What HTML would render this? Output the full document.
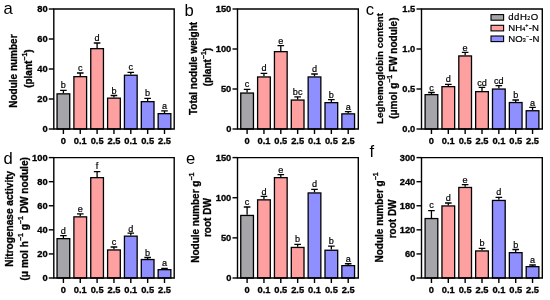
<!DOCTYPE html>
<html><head><meta charset="utf-8"><style>
html,body{margin:0;padding:0;background:#fff;width:550px;height:300px;overflow:hidden}
svg{display:block;will-change:transform}
text{font-family:"Liberation Sans",sans-serif;fill:#000}
.tk{font-size:9.3px;font-weight:bold;stroke:#000;stroke-width:0.3px}
.let{font-size:9.1px;stroke:#000;stroke-width:0.2px}
.pl{font-size:16.6px}
.tt{font-size:10px;font-weight:bold;stroke:#000;stroke-width:0.3px}
.lg{font-size:9.6px;stroke:#000;stroke-width:0.2px}
</style></head><body>
<svg width="550" height="300" viewBox="0 0 550 300">
<rect width="550" height="300" fill="#fff"/>
<rect x="57.05" y="93.85" width="12.7" height="35.15" fill="#a6a6aa" stroke="#000" stroke-width="1.3"/>
<path d="M63.4 93.2V90.3M60.1 90.3H66.7" stroke="#000" stroke-width="1.3" fill="none"/>
<text x="63.4" y="87.5" class="let" text-anchor="middle">b</text>
<path d="M63.4 129V134" stroke="#000" stroke-width="1.4"/>
<text x="63.4" y="144.4" class="tk" text-anchor="middle">0</text>
<rect x="73.9" y="76.65" width="12.7" height="52.35" fill="#ffa0a0" stroke="#000" stroke-width="1.3"/>
<path d="M80.25 76V73M76.95 73H83.55" stroke="#000" stroke-width="1.3" fill="none"/>
<text x="80.25" y="70.7" class="let" text-anchor="middle">c</text>
<path d="M80.25 129V134" stroke="#000" stroke-width="1.4"/>
<text x="80.25" y="144.4" class="tk" text-anchor="middle">0.1</text>
<rect x="90.75" y="48.65" width="12.7" height="80.35" fill="#ffa0a0" stroke="#000" stroke-width="1.3"/>
<path d="M97.1 48V43M93.8 43H100.4" stroke="#000" stroke-width="1.3" fill="none"/>
<text x="97.1" y="41" class="let" text-anchor="middle">d</text>
<path d="M97.1 129V134" stroke="#000" stroke-width="1.4"/>
<text x="97.1" y="144.4" class="tk" text-anchor="middle">0.5</text>
<rect x="107.6" y="98.15" width="12.7" height="30.85" fill="#ffa0a0" stroke="#000" stroke-width="1.3"/>
<path d="M113.95 97.5V95.5M110.65 95.5H117.25" stroke="#000" stroke-width="1.3" fill="none"/>
<text x="113.95" y="93.8" class="let" text-anchor="middle">b</text>
<path d="M113.95 129V134" stroke="#000" stroke-width="1.4"/>
<text x="113.95" y="144.4" class="tk" text-anchor="middle">2.5</text>
<rect x="124.45" y="75.25" width="12.7" height="53.75" fill="#8f8fff" stroke="#000" stroke-width="1.3"/>
<path d="M130.8 74.6V72.4M127.5 72.4H134.1" stroke="#000" stroke-width="1.3" fill="none"/>
<text x="130.8" y="70.3" class="let" text-anchor="middle">c</text>
<path d="M130.8 129V134" stroke="#000" stroke-width="1.4"/>
<text x="130.8" y="144.4" class="tk" text-anchor="middle">0.1</text>
<rect x="141.3" y="101.65" width="12.7" height="27.35" fill="#8f8fff" stroke="#000" stroke-width="1.3"/>
<path d="M147.65 101V98.4M144.35 98.4H150.95" stroke="#000" stroke-width="1.3" fill="none"/>
<text x="147.65" y="96.2" class="let" text-anchor="middle">b</text>
<path d="M147.65 129V134" stroke="#000" stroke-width="1.4"/>
<text x="147.65" y="144.4" class="tk" text-anchor="middle">0.5</text>
<rect x="158.15" y="113.65" width="12.7" height="15.35" fill="#8f8fff" stroke="#000" stroke-width="1.3"/>
<path d="M164.5 113V110.8M161.2 110.8H167.8" stroke="#000" stroke-width="1.3" fill="none"/>
<text x="164.5" y="108.9" class="let" text-anchor="middle">a</text>
<path d="M164.5 129V134" stroke="#000" stroke-width="1.4"/>
<text x="164.5" y="144.4" class="tk" text-anchor="middle">2.5</text>
<path d="M53.8 9V129H174.2V9Z" stroke="#000" stroke-width="1.4" fill="none"/>
<path d="M48.8 129H53.8" stroke="#000" stroke-width="1.4"/>
<text x="47.6" y="132.3" class="tk" text-anchor="end">0</text>
<path d="M48.8 99H53.8" stroke="#000" stroke-width="1.4"/>
<text x="47.6" y="102.3" class="tk" text-anchor="end">20</text>
<path d="M48.8 69H53.8" stroke="#000" stroke-width="1.4"/>
<text x="47.6" y="72.3" class="tk" text-anchor="end">40</text>
<path d="M48.8 39H53.8" stroke="#000" stroke-width="1.4"/>
<text x="47.6" y="42.3" class="tk" text-anchor="end">60</text>
<path d="M48.8 9H53.8" stroke="#000" stroke-width="1.4"/>
<text x="47.6" y="12.3" class="tk" text-anchor="end">80</text>
<rect x="240.75" y="93.05" width="12.7" height="35.95" fill="#a6a6aa" stroke="#000" stroke-width="1.3"/>
<path d="M247.1 92.4V89.4M243.8 89.4H250.4" stroke="#000" stroke-width="1.3" fill="none"/>
<text x="247.1" y="87.3" class="let" text-anchor="middle">c</text>
<path d="M247.1 129V134" stroke="#000" stroke-width="1.4"/>
<text x="247.1" y="144.4" class="tk" text-anchor="middle">0</text>
<rect x="257.6" y="76.95" width="12.7" height="52.05" fill="#ffa0a0" stroke="#000" stroke-width="1.3"/>
<path d="M263.95 76.3V73.3M260.65 73.3H267.25" stroke="#000" stroke-width="1.3" fill="none"/>
<text x="263.95" y="71.2" class="let" text-anchor="middle">d</text>
<path d="M263.95 129V134" stroke="#000" stroke-width="1.4"/>
<text x="263.95" y="144.4" class="tk" text-anchor="middle">0.1</text>
<rect x="274.45" y="51.65" width="12.7" height="77.35" fill="#ffa0a0" stroke="#000" stroke-width="1.3"/>
<path d="M280.8 51V45.6M277.5 45.6H284.1" stroke="#000" stroke-width="1.3" fill="none"/>
<text x="280.8" y="44" class="let" text-anchor="middle">e</text>
<path d="M280.8 129V134" stroke="#000" stroke-width="1.4"/>
<text x="280.8" y="144.4" class="tk" text-anchor="middle">0.5</text>
<rect x="291.3" y="100.05" width="12.7" height="28.95" fill="#ffa0a0" stroke="#000" stroke-width="1.3"/>
<path d="M297.65 99.4V96.9M294.35 96.9H300.95" stroke="#000" stroke-width="1.3" fill="none"/>
<text x="297.65" y="95" class="let" text-anchor="middle">bc</text>
<path d="M297.65 129V134" stroke="#000" stroke-width="1.4"/>
<text x="297.65" y="144.4" class="tk" text-anchor="middle">2.5</text>
<rect x="308.15" y="76.95" width="12.7" height="52.05" fill="#8f8fff" stroke="#000" stroke-width="1.3"/>
<path d="M314.5 76.3V74M311.2 74H317.8" stroke="#000" stroke-width="1.3" fill="none"/>
<text x="314.5" y="72.1" class="let" text-anchor="middle">d</text>
<path d="M314.5 129V134" stroke="#000" stroke-width="1.4"/>
<text x="314.5" y="144.4" class="tk" text-anchor="middle">0.1</text>
<rect x="325" y="102.65" width="12.7" height="26.35" fill="#8f8fff" stroke="#000" stroke-width="1.3"/>
<path d="M331.35 102V99.7M328.05 99.7H334.65" stroke="#000" stroke-width="1.3" fill="none"/>
<text x="331.35" y="98" class="let" text-anchor="middle">b</text>
<path d="M331.35 129V134" stroke="#000" stroke-width="1.4"/>
<text x="331.35" y="144.4" class="tk" text-anchor="middle">0.5</text>
<rect x="341.85" y="113.85" width="12.7" height="15.15" fill="#8f8fff" stroke="#000" stroke-width="1.3"/>
<path d="M348.2 113.2V111.6M344.9 111.6H351.5" stroke="#000" stroke-width="1.3" fill="none"/>
<text x="348.2" y="110.1" class="let" text-anchor="middle">a</text>
<path d="M348.2 129V134" stroke="#000" stroke-width="1.4"/>
<text x="348.2" y="144.4" class="tk" text-anchor="middle">2.5</text>
<path d="M237.5 9V129H358.3V9Z" stroke="#000" stroke-width="1.4" fill="none"/>
<path d="M232.5 129H237.5" stroke="#000" stroke-width="1.4"/>
<text x="231.3" y="132.3" class="tk" text-anchor="end">0</text>
<path d="M232.5 89H237.5" stroke="#000" stroke-width="1.4"/>
<text x="231.3" y="92.3" class="tk" text-anchor="end">50</text>
<path d="M232.5 49H237.5" stroke="#000" stroke-width="1.4"/>
<text x="231.3" y="52.3" class="tk" text-anchor="end">100</text>
<path d="M232.5 9H237.5" stroke="#000" stroke-width="1.4"/>
<text x="231.3" y="12.3" class="tk" text-anchor="end">150</text>
<rect x="425.1" y="94.65" width="12.7" height="34.35" fill="#a6a6aa" stroke="#000" stroke-width="1.3"/>
<path d="M431.45 94V92.5M428.15 92.5H434.75" stroke="#000" stroke-width="1.3" fill="none"/>
<text x="431.45" y="90.5" class="let" text-anchor="middle">c</text>
<path d="M431.45 129V134" stroke="#000" stroke-width="1.4"/>
<text x="431.45" y="144.4" class="tk" text-anchor="middle">0</text>
<rect x="441.95" y="86.65" width="12.7" height="42.35" fill="#ffa0a0" stroke="#000" stroke-width="1.3"/>
<path d="M448.3 86V84.3M445 84.3H451.6" stroke="#000" stroke-width="1.3" fill="none"/>
<text x="448.3" y="82.4" class="let" text-anchor="middle">d</text>
<path d="M448.3 129V134" stroke="#000" stroke-width="1.4"/>
<text x="448.3" y="144.4" class="tk" text-anchor="middle">0.1</text>
<rect x="458.8" y="55.95" width="12.7" height="73.05" fill="#ffa0a0" stroke="#000" stroke-width="1.3"/>
<path d="M465.15 55.3V52.3M461.85 52.3H468.45" stroke="#000" stroke-width="1.3" fill="none"/>
<text x="465.15" y="50.8" class="let" text-anchor="middle">e</text>
<path d="M465.15 129V134" stroke="#000" stroke-width="1.4"/>
<text x="465.15" y="144.4" class="tk" text-anchor="middle">0.5</text>
<rect x="475.65" y="91.65" width="12.7" height="37.35" fill="#ffa0a0" stroke="#000" stroke-width="1.3"/>
<path d="M482 91V87.4M478.7 87.4H485.3" stroke="#000" stroke-width="1.3" fill="none"/>
<text x="482" y="86" class="let" text-anchor="middle">cd</text>
<path d="M482 129V134" stroke="#000" stroke-width="1.4"/>
<text x="482" y="144.4" class="tk" text-anchor="middle">2.5</text>
<rect x="492.5" y="89.05" width="12.7" height="39.95" fill="#8f8fff" stroke="#000" stroke-width="1.3"/>
<path d="M498.85 88.4V85.6M495.55 85.6H502.15" stroke="#000" stroke-width="1.3" fill="none"/>
<text x="498.85" y="83.6" class="let" text-anchor="middle">cd</text>
<path d="M498.85 129V134" stroke="#000" stroke-width="1.4"/>
<text x="498.85" y="144.4" class="tk" text-anchor="middle">0.1</text>
<rect x="509.35" y="102.55" width="12.7" height="26.45" fill="#8f8fff" stroke="#000" stroke-width="1.3"/>
<path d="M515.7 101.9V100M512.4 100H519" stroke="#000" stroke-width="1.3" fill="none"/>
<text x="515.7" y="98.1" class="let" text-anchor="middle">b</text>
<path d="M515.7 129V134" stroke="#000" stroke-width="1.4"/>
<text x="515.7" y="144.4" class="tk" text-anchor="middle">0.5</text>
<rect x="526.2" y="110.75" width="12.7" height="18.25" fill="#8f8fff" stroke="#000" stroke-width="1.3"/>
<path d="M532.55 110.1V107.4M529.25 107.4H535.85" stroke="#000" stroke-width="1.3" fill="none"/>
<text x="532.55" y="105.7" class="let" text-anchor="middle">a</text>
<path d="M532.55 129V134" stroke="#000" stroke-width="1.4"/>
<text x="532.55" y="144.4" class="tk" text-anchor="middle">2.5</text>
<path d="M421.5 9V129H542.3V9Z" stroke="#000" stroke-width="1.4" fill="none"/>
<path d="M416.5 129H421.5" stroke="#000" stroke-width="1.4"/>
<text x="415.3" y="132.3" class="tk" text-anchor="end">0.0</text>
<path d="M416.5 89H421.5" stroke="#000" stroke-width="1.4"/>
<text x="415.3" y="92.3" class="tk" text-anchor="end">0.5</text>
<path d="M416.5 49H421.5" stroke="#000" stroke-width="1.4"/>
<text x="415.3" y="52.3" class="tk" text-anchor="end">1.0</text>
<path d="M416.5 9H421.5" stroke="#000" stroke-width="1.4"/>
<text x="415.3" y="12.3" class="tk" text-anchor="end">1.5</text>
<rect x="57.05" y="238.65" width="12.7" height="39.35" fill="#a6a6aa" stroke="#000" stroke-width="1.3"/>
<path d="M63.4 238V235.7M60.1 235.7H66.7" stroke="#000" stroke-width="1.3" fill="none"/>
<text x="63.4" y="233.5" class="let" text-anchor="middle">d</text>
<path d="M63.4 278V283" stroke="#000" stroke-width="1.4"/>
<text x="63.4" y="293.4" class="tk" text-anchor="middle">0</text>
<rect x="73.9" y="216.85" width="12.7" height="61.15" fill="#ffa0a0" stroke="#000" stroke-width="1.3"/>
<path d="M80.25 216.2V213.8M76.95 213.8H83.55" stroke="#000" stroke-width="1.3" fill="none"/>
<text x="80.25" y="212.4" class="let" text-anchor="middle">e</text>
<path d="M80.25 278V283" stroke="#000" stroke-width="1.4"/>
<text x="80.25" y="293.4" class="tk" text-anchor="middle">0.1</text>
<rect x="90.75" y="177.65" width="12.7" height="100.35" fill="#ffa0a0" stroke="#000" stroke-width="1.3"/>
<path d="M97.1 177V171.6M93.8 171.6H100.4" stroke="#000" stroke-width="1.3" fill="none"/>
<text x="97.1" y="169.2" class="let" text-anchor="middle">f</text>
<path d="M97.1 278V283" stroke="#000" stroke-width="1.4"/>
<text x="97.1" y="293.4" class="tk" text-anchor="middle">0.5</text>
<rect x="107.6" y="249.95" width="12.7" height="28.05" fill="#ffa0a0" stroke="#000" stroke-width="1.3"/>
<path d="M113.95 249.3V247M110.65 247H117.25" stroke="#000" stroke-width="1.3" fill="none"/>
<text x="113.95" y="245.3" class="let" text-anchor="middle">c</text>
<path d="M113.95 278V283" stroke="#000" stroke-width="1.4"/>
<text x="113.95" y="293.4" class="tk" text-anchor="middle">2.5</text>
<rect x="124.45" y="236.15" width="12.7" height="41.85" fill="#8f8fff" stroke="#000" stroke-width="1.3"/>
<path d="M130.8 235.5V233.2M127.5 233.2H134.1" stroke="#000" stroke-width="1.3" fill="none"/>
<text x="130.8" y="232" class="let" text-anchor="middle">d</text>
<path d="M130.8 278V283" stroke="#000" stroke-width="1.4"/>
<text x="130.8" y="293.4" class="tk" text-anchor="middle">0.1</text>
<rect x="141.3" y="259.55" width="12.7" height="18.45" fill="#8f8fff" stroke="#000" stroke-width="1.3"/>
<path d="M147.65 258.9V257.5M144.35 257.5H150.95" stroke="#000" stroke-width="1.3" fill="none"/>
<text x="147.65" y="255.8" class="let" text-anchor="middle">b</text>
<path d="M147.65 278V283" stroke="#000" stroke-width="1.4"/>
<text x="147.65" y="293.4" class="tk" text-anchor="middle">0.5</text>
<rect x="158.15" y="269.65" width="12.7" height="8.35" fill="#8f8fff" stroke="#000" stroke-width="1.3"/>
<path d="M164.5 269V268.3M161.2 268.3H167.8" stroke="#000" stroke-width="1.3" fill="none"/>
<text x="164.5" y="266.3" class="let" text-anchor="middle">a</text>
<path d="M164.5 278V283" stroke="#000" stroke-width="1.4"/>
<text x="164.5" y="293.4" class="tk" text-anchor="middle">2.5</text>
<path d="M53.8 157.6V278H174.2V157.6Z" stroke="#000" stroke-width="1.4" fill="none"/>
<path d="M48.8 278H53.8" stroke="#000" stroke-width="1.4"/>
<text x="47.6" y="281.3" class="tk" text-anchor="end">0</text>
<path d="M48.8 253.92H53.8" stroke="#000" stroke-width="1.4"/>
<text x="47.6" y="257.22" class="tk" text-anchor="end">20</text>
<path d="M48.8 229.84H53.8" stroke="#000" stroke-width="1.4"/>
<text x="47.6" y="233.14" class="tk" text-anchor="end">40</text>
<path d="M48.8 205.76H53.8" stroke="#000" stroke-width="1.4"/>
<text x="47.6" y="209.06" class="tk" text-anchor="end">60</text>
<path d="M48.8 181.68H53.8" stroke="#000" stroke-width="1.4"/>
<text x="47.6" y="184.98" class="tk" text-anchor="end">80</text>
<path d="M48.8 157.6H53.8" stroke="#000" stroke-width="1.4"/>
<text x="47.6" y="160.9" class="tk" text-anchor="end">100</text>
<rect x="240.75" y="215.45" width="12.7" height="62.55" fill="#a6a6aa" stroke="#000" stroke-width="1.3"/>
<path d="M247.1 214.8V207M243.8 207H250.4" stroke="#000" stroke-width="1.3" fill="none"/>
<text x="247.1" y="205.2" class="let" text-anchor="middle">c</text>
<path d="M247.1 278V283" stroke="#000" stroke-width="1.4"/>
<text x="247.1" y="293.4" class="tk" text-anchor="middle">0</text>
<rect x="257.6" y="199.85" width="12.7" height="78.15" fill="#ffa0a0" stroke="#000" stroke-width="1.3"/>
<path d="M263.95 199.2V196.4M260.65 196.4H267.25" stroke="#000" stroke-width="1.3" fill="none"/>
<text x="263.95" y="194.7" class="let" text-anchor="middle">d</text>
<path d="M263.95 278V283" stroke="#000" stroke-width="1.4"/>
<text x="263.95" y="293.4" class="tk" text-anchor="middle">0.1</text>
<rect x="274.45" y="177.65" width="12.7" height="100.35" fill="#ffa0a0" stroke="#000" stroke-width="1.3"/>
<path d="M280.8 177V174.6M277.5 174.6H284.1" stroke="#000" stroke-width="1.3" fill="none"/>
<text x="280.8" y="173" class="let" text-anchor="middle">e</text>
<path d="M280.8 278V283" stroke="#000" stroke-width="1.4"/>
<text x="280.8" y="293.4" class="tk" text-anchor="middle">0.5</text>
<rect x="291.3" y="247.45" width="12.7" height="30.55" fill="#ffa0a0" stroke="#000" stroke-width="1.3"/>
<path d="M297.65 246.8V244.4M294.35 244.4H300.95" stroke="#000" stroke-width="1.3" fill="none"/>
<text x="297.65" y="242.4" class="let" text-anchor="middle">b</text>
<path d="M297.65 278V283" stroke="#000" stroke-width="1.4"/>
<text x="297.65" y="293.4" class="tk" text-anchor="middle">2.5</text>
<rect x="308.15" y="192.95" width="12.7" height="85.05" fill="#8f8fff" stroke="#000" stroke-width="1.3"/>
<path d="M314.5 192.3V189.3M311.2 189.3H317.8" stroke="#000" stroke-width="1.3" fill="none"/>
<text x="314.5" y="187" class="let" text-anchor="middle">d</text>
<path d="M314.5 278V283" stroke="#000" stroke-width="1.4"/>
<text x="314.5" y="293.4" class="tk" text-anchor="middle">0.1</text>
<rect x="325" y="250.25" width="12.7" height="27.75" fill="#8f8fff" stroke="#000" stroke-width="1.3"/>
<path d="M331.35 249.6V246.2M328.05 246.2H334.65" stroke="#000" stroke-width="1.3" fill="none"/>
<text x="331.35" y="244.4" class="let" text-anchor="middle">b</text>
<path d="M331.35 278V283" stroke="#000" stroke-width="1.4"/>
<text x="331.35" y="293.4" class="tk" text-anchor="middle">0.5</text>
<rect x="341.85" y="265.65" width="12.7" height="12.35" fill="#8f8fff" stroke="#000" stroke-width="1.3"/>
<path d="M348.2 265V263.75M344.9 263.75H351.5" stroke="#000" stroke-width="1.3" fill="none"/>
<text x="348.2" y="262" class="let" text-anchor="middle">a</text>
<path d="M348.2 278V283" stroke="#000" stroke-width="1.4"/>
<text x="348.2" y="293.4" class="tk" text-anchor="middle">2.5</text>
<path d="M237.5 157.6V278H358.3V157.6Z" stroke="#000" stroke-width="1.4" fill="none"/>
<path d="M232.5 278H237.5" stroke="#000" stroke-width="1.4"/>
<text x="231.3" y="281.3" class="tk" text-anchor="end">0</text>
<path d="M232.5 237.87H237.5" stroke="#000" stroke-width="1.4"/>
<text x="231.3" y="241.17" class="tk" text-anchor="end">50</text>
<path d="M232.5 197.73H237.5" stroke="#000" stroke-width="1.4"/>
<text x="231.3" y="201.03" class="tk" text-anchor="end">100</text>
<path d="M232.5 157.6H237.5" stroke="#000" stroke-width="1.4"/>
<text x="231.3" y="160.9" class="tk" text-anchor="end">150</text>
<rect x="425.1" y="218.55" width="12.7" height="59.45" fill="#a6a6aa" stroke="#000" stroke-width="1.3"/>
<path d="M431.45 217.9V210.7M428.15 210.7H434.75" stroke="#000" stroke-width="1.3" fill="none"/>
<text x="431.45" y="208.4" class="let" text-anchor="middle">c</text>
<path d="M431.45 278V283" stroke="#000" stroke-width="1.4"/>
<text x="431.45" y="293.4" class="tk" text-anchor="middle">0</text>
<rect x="441.95" y="205.95" width="12.7" height="72.05" fill="#ffa0a0" stroke="#000" stroke-width="1.3"/>
<path d="M448.3 205.3V203M445 203H451.6" stroke="#000" stroke-width="1.3" fill="none"/>
<text x="448.3" y="200.8" class="let" text-anchor="middle">d</text>
<path d="M448.3 278V283" stroke="#000" stroke-width="1.4"/>
<text x="448.3" y="293.4" class="tk" text-anchor="middle">0.1</text>
<rect x="458.8" y="187.45" width="12.7" height="90.55" fill="#ffa0a0" stroke="#000" stroke-width="1.3"/>
<path d="M465.15 186.8V184.6M461.85 184.6H468.45" stroke="#000" stroke-width="1.3" fill="none"/>
<text x="465.15" y="182.6" class="let" text-anchor="middle">e</text>
<path d="M465.15 278V283" stroke="#000" stroke-width="1.4"/>
<text x="465.15" y="293.4" class="tk" text-anchor="middle">0.5</text>
<rect x="475.65" y="250.95" width="12.7" height="27.05" fill="#ffa0a0" stroke="#000" stroke-width="1.3"/>
<path d="M482 250.3V248.4M478.7 248.4H485.3" stroke="#000" stroke-width="1.3" fill="none"/>
<text x="482" y="246.1" class="let" text-anchor="middle">b</text>
<path d="M482 278V283" stroke="#000" stroke-width="1.4"/>
<text x="482" y="293.4" class="tk" text-anchor="middle">2.5</text>
<rect x="492.5" y="200.45" width="12.7" height="77.55" fill="#8f8fff" stroke="#000" stroke-width="1.3"/>
<path d="M498.85 199.8V197.3M495.55 197.3H502.15" stroke="#000" stroke-width="1.3" fill="none"/>
<text x="498.85" y="195" class="let" text-anchor="middle">d</text>
<path d="M498.85 278V283" stroke="#000" stroke-width="1.4"/>
<text x="498.85" y="293.4" class="tk" text-anchor="middle">0.1</text>
<rect x="509.35" y="252.65" width="12.7" height="25.35" fill="#8f8fff" stroke="#000" stroke-width="1.3"/>
<path d="M515.7 252V249.5M512.4 249.5H519" stroke="#000" stroke-width="1.3" fill="none"/>
<text x="515.7" y="248" class="let" text-anchor="middle">b</text>
<path d="M515.7 278V283" stroke="#000" stroke-width="1.4"/>
<text x="515.7" y="293.4" class="tk" text-anchor="middle">0.5</text>
<rect x="526.2" y="266.65" width="12.7" height="11.35" fill="#8f8fff" stroke="#000" stroke-width="1.3"/>
<path d="M532.55 266V265M529.25 265H535.85" stroke="#000" stroke-width="1.3" fill="none"/>
<text x="532.55" y="263.4" class="let" text-anchor="middle">a</text>
<path d="M532.55 278V283" stroke="#000" stroke-width="1.4"/>
<text x="532.55" y="293.4" class="tk" text-anchor="middle">2.5</text>
<path d="M421.5 157.6V278H542.3V157.6Z" stroke="#000" stroke-width="1.4" fill="none"/>
<path d="M416.5 278H421.5" stroke="#000" stroke-width="1.4"/>
<text x="415.3" y="281.3" class="tk" text-anchor="end">0</text>
<path d="M416.5 253.92H421.5" stroke="#000" stroke-width="1.4"/>
<text x="415.3" y="257.22" class="tk" text-anchor="end">60</text>
<path d="M416.5 229.84H421.5" stroke="#000" stroke-width="1.4"/>
<text x="415.3" y="233.14" class="tk" text-anchor="end">120</text>
<path d="M416.5 205.76H421.5" stroke="#000" stroke-width="1.4"/>
<text x="415.3" y="209.06" class="tk" text-anchor="end">180</text>
<path d="M416.5 181.68H421.5" stroke="#000" stroke-width="1.4"/>
<text x="415.3" y="184.98" class="tk" text-anchor="end">240</text>
<path d="M416.5 157.6H421.5" stroke="#000" stroke-width="1.4"/>
<text x="415.3" y="160.9" class="tk" text-anchor="end">300</text>
<text x="3.6" y="14" class="pl">a</text>
<text x="184.4" y="16" class="pl">b</text>
<text x="365.8" y="15" class="pl">c</text>
<text x="3.6" y="164" class="pl">d</text>
<text x="186.1" y="163.5" class="pl">e</text>
<text x="369.6" y="157" class="pl">f</text>
<text transform="translate(17.3,71.1) rotate(-90)" class="tt" text-anchor="middle">Nodule number</text>
<text transform="translate(31.8,68.6) rotate(-90)" class="tt" text-anchor="middle">(plant<tspan baseline-shift="5.2" font-size="7">−1</tspan>)</text>
<text transform="translate(196.7,68.5) rotate(-90)" class="tt" text-anchor="middle">Total nodule weight</text>
<text transform="translate(211.4,67.1) rotate(-90)" class="tt" text-anchor="middle">(plant<tspan baseline-shift="5.2" font-size="7">−1</tspan>)</text>
<text transform="translate(382.8,68.4) rotate(-90)" class="tt" text-anchor="middle" style="font-size:9.8px">Leghemoglobin content</text>
<text transform="translate(397.3,68.2) rotate(-90)" class="tt" text-anchor="middle">(μmol g<tspan baseline-shift="5.2" font-size="7">−1</tspan> FW nodule)</text>
<text transform="translate(13.2,218.8) rotate(-90)" class="tt" text-anchor="middle" style="font-size:10.1px">Nitrogenase activity</text>
<text transform="translate(28,218.8) rotate(-90)" class="tt" text-anchor="middle" style="font-size:10.15px">(μ mol h<tspan baseline-shift="5.2" font-size="7">−1</tspan> g<tspan baseline-shift="5.2" font-size="7">−1</tspan> DW nodule)</text>
<text transform="translate(199.2,217.7) rotate(-90)" class="tt" text-anchor="middle">Nodule number g<tspan baseline-shift="5.2" font-size="7">−1</tspan></text>
<text transform="translate(211.3,217.6) rotate(-90)" class="tt" text-anchor="middle">root DW</text>
<text transform="translate(383,217.4) rotate(-90)" class="tt" text-anchor="middle">Nodule number g<tspan baseline-shift="5.2" font-size="7">−1</tspan></text>
<text transform="translate(395.6,218.9) rotate(-90)" class="tt" text-anchor="middle">root DW</text>
<rect x="491" y="14.6" width="12.6" height="5.6" fill="#a6a6aa" stroke="#000" stroke-width="1.1"/>
<text x="508.3" y="20" class="lg" textLength="30" lengthAdjust="spacing">ddH<tspan font-size="5.4" baseline-shift="0.2">2</tspan>O</text>
<rect x="491" y="25.3" width="12.6" height="5.6" fill="#ffa0a0" stroke="#000" stroke-width="1.1"/>
<text x="508.3" y="30.9" class="lg">NH<tspan font-size="5.4" baseline-shift="0.2">4</tspan><tspan font-size="5.4" baseline-shift="4">+</tspan><tspan dx="0.4">-N</tspan></text>
<rect x="491" y="36" width="12.6" height="5.6" fill="#8f8fff" stroke="#000" stroke-width="1.1"/>
<text x="508.3" y="41.8" class="lg">NO<tspan font-size="5.4" baseline-shift="0.2">3</tspan><tspan font-size="5.4" baseline-shift="4">−</tspan><tspan dx="0.4">-N</tspan></text>
</svg>
</body></html>
